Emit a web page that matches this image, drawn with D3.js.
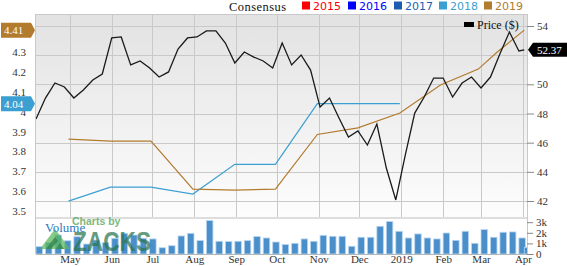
<!DOCTYPE html>
<html><head><meta charset="utf-8">
<script src="https://cdn.jsdelivr.net/npm/d3@7"></script>
<style>body{margin:0;background:#fff}svg{display:block}</style>
</head><body><svg id="c" width="567" height="266"></svg>
<script>
// ---------- data ----------
const priceStartDate = "2018-04-06"; // weekly closes from this Friday
const priceValues = [47.62,49.06,50.09,49.82,49.06,49.61,50.30,50.71,53.18,53.25,
  51.33,51.60,51.12,50.50,50.85,52.42,53.18,53.25,53.66,53.66,
  52.83,51.46,52.22,51.87,51.60,51.12,52.83,51.33,52.01,50.98,
  48.44,49.06,47.69,46.39,46.80,45.84,47.28,44.26,42.07,45.15,
  48.03,49.13,50.43,50.43,49.13,50.09,50.50,49.75,50.50,52.10,
  53.59,52.29];
const lastDate = "2019-04-02";
const lastPrice = 52.37;
const volumeValues = [0.69,1.07,1.79,1.25,1.63,0.94,1.32,1.07,1.48,1.95,
  1.79,1.48,1.42,0.59,0.78,1.70,1.95,1.27,3.15,1.20,
  1.17,1.20,1.26,1.64,1.51,1.13,0.89,1.01,1.42,1.20,
  1.76,1.67,1.67,0.73,1.58,1.58,2.61,3.06,2.14,1.51,
  1.89,1.51,1.42,1.98,1.29,2.14,1.01,2.30,1.58,2.05,
  2.08,1.51,0.63];
const cons2018Dates = ["2018-04-30","2018-05-31","2018-06-30","2018-07-31","2018-08-31","2018-09-30","2018-10-31","2018-12-31"];
const cons2018Values = [3.55,3.62,3.62,3.585,3.735,3.735,4.04,4.04];
const cons2019Dates = ["2018-04-30","2018-05-31","2018-06-30","2018-07-31","2018-08-31","2018-09-30","2018-10-31","2018-11-30","2018-12-31","2019-01-30","2019-02-27","2019-03-13","2019-04-02"];
const cons2019Values = [3.862,3.852,3.852,3.61,3.605,3.61,3.885,3.918,3.993,4.134,4.214,4.30,4.41];
const monthTickDates = ["2018-05-01","2018-06-01","2018-07-01","2018-08-01","2018-09-01","2018-10-01","2018-11-01","2018-12-01","2019-01-01","2019-02-01","2019-03-01","2019-04-01"];
const monthTickLabels = ["May","Jun","Jul","Aug","Sep","Oct","Nov","Dec","2019","Feb","Mar","Apr"];
const epsTicks = [3.5,3.6,3.7,3.8,3.9,4.0,4.1,4.2,4.3];
const epsTickLabels = ["3.5","3.6","3.7","3.8","3.9","4","4.1","4.2","4.3"];
const priceGridTicks = [42,44,46,48,50,52,54];
const priceLabelTicks = [42,44,46,48,50,54];
const volumeTicks = [0,1,2,3];
const volumeTickLabels = ["0","1k","2k","3k"];
const legendYears = ["2015","2016","2017","2018","2019"];
const legendColors = ["#ff0000","#0000ff","#1e5eb0","#3c9fd1","#b27b2e"];
const badgeEps2019 = "4.41", badgeEps2018 = "4.04", badgePrice = "52.37";

// ---------- layout ----------
const L = 36, R = 527, T = 14, PB = 217, VT = 219, VB = 254;
const parse = d3.timeParse("%Y-%m-%d");
const svg = d3.select("#c");
const serif = "'Liberation Serif','Times New Roman',serif";

const x = d3.scaleTime().domain([parse("2018-04-06"), parse("2019-04-04")]).range([L, R]);
const yP = d3.scaleLinear().domain([42, 54]).range([201, 26]);
const yE = d3.scaleLinear().domain([3.5, 4.3]).range([211, 52]);
const yV = d3.scaleLinear().domain([0, 3.3]).range([VB, VB - 35]);

const start = parse(priceStartDate);
const priceData = priceValues.map((v, i) => ({d: d3.timeDay.offset(start, 7 * i), v}));
priceData.push({d: parse(lastDate), v: lastPrice});
const volData = volumeValues.map((v, i) => ({d: i < priceData.length ? priceData[i].d : parse(lastDate), v}));

// background gradient
const defs = svg.append("defs");
const g = defs.append("linearGradient").attr("id", "bg").attr("x1", 0).attr("y1", 0).attr("x2", 0).attr("y2", 1);
g.append("stop").attr("offset", "0%").attr("stop-color", "#e2e2e2");
g.append("stop").attr("offset", "100%").attr("stop-color", "#fdfdfd");
defs.append("clipPath").attr("id", "clipP").append("rect").attr("x", L).attr("y", T).attr("width", R - L).attr("height", PB - T);
defs.append("clipPath").attr("id", "clipV").append("rect").attr("x", L).attr("y", VT).attr("width", R - L).attr("height", VB - VT);

svg.append("rect").attr("x", L).attr("y", T).attr("width", R - L).attr("height", PB - T).attr("fill", "url(#bg)");

// gridlines
svg.append("g").selectAll("line").data(priceGridTicks).join("line")
  .attr("x1", L).attr("x2", R).attr("y1", d => Math.round(yP(d)) + 0.5).attr("y2", d => Math.round(yP(d)) + 0.5)
  .attr("stroke", "#c9c9c9");
svg.append("g").selectAll("line").data(monthTickDates).join("line")
  .attr("x1", d => Math.round(x(parse(d))) + 0.5).attr("x2", d => Math.round(x(parse(d))) + 0.5)
  .attr("y1", T).attr("y2", PB).attr("stroke", "#c9c9c9");

// separator band
svg.append("rect").attr("x", L).attr("y", PB).attr("width", R - L).attr("height", 2).attr("fill", "#dddddd");

// borders
svg.append("line").attr("x1", L).attr("x2", R).attr("y1", T + 0.5).attr("y2", T + 0.5).attr("stroke", "#c9c9c9");
svg.append("line").attr("x1", L - 0.5).attr("x2", L - 0.5).attr("y1", T).attr("y2", VB).attr("stroke", "#c9c9c9");
svg.append("line").attr("x1", R + 0.5).attr("x2", R + 0.5).attr("y1", T).attr("y2", VB).attr("stroke", "#c9c9c9");
svg.append("line").attr("x1", L).attr("x2", R + 7).attr("y1", VB + 0.5).attr("y2", VB + 0.5).attr("stroke", "#b5b5b5");

// volume bars
svg.append("g").attr("clip-path", "url(#clipV)").selectAll("rect").data(volData).join("rect")
  .attr("x", d => x(d.d)).attr("width", 6.5)
  .attr("y", d => yV(d.v)).attr("height", d => VB - yV(d.v))
  .attr("fill", "#4a8fca").attr("stroke", "#b9d6f0").attr("stroke-width", 0.8);

// watermark
const wm = svg.append("g");
wm.append("path").attr("d", "M40,249 L55,229 L70,249 Z").attr("fill", "#5cb85c").attr("opacity", 0.75);
wm.append("path").attr("d", "M46,249 L55,237 L58,241 L51,249 Z M56,249 L60,243 L64,249 Z").attr("fill", "#2e7d4a").attr("opacity", 0.7);
wm.append("text").attr("x", 72).attr("y", 225).attr("font-family", "'Liberation Sans',Arial,sans-serif")
  .attr("font-weight", "bold").attr("font-size", 10.5).attr("fill", "#5aa860").attr("opacity", 0.8).text("Charts by");
wm.append("text").attr("x", 73).attr("y", 251).attr("font-family", "'Liberation Sans',Arial,sans-serif")
  .attr("font-weight", "bold").attr("font-size", 28).attr("textLength", 78).attr("lengthAdjust", "spacingAndGlyphs")
  .attr("fill", "#2c7550").attr("opacity", 0.72).text("ZACKS");
svg.append("text").attr("x", 45).attr("y", 232).attr("font-family", serif).attr("font-size", 13)
  .attr("fill", "#2a7cc0").text("Volume");

// consensus lines
const line = (yy) => d3.line().x(d => x(d.d)).y(d => yy(d.v));
const c18 = cons2018Dates.map((d, i) => ({d: parse(d), v: cons2018Values[i]}));
const c19 = cons2019Dates.map((d, i) => ({d: parse(d), v: cons2019Values[i]}));
const lines = svg.append("g").attr("clip-path", "url(#clipP)");
lines.append("path").datum(c18).attr("d", line(yE)).attr("fill", "none").attr("stroke", legendColors[3]).attr("stroke-width", 1.2);
lines.append("path").datum(c19).attr("d", line(yE)).attr("fill", "none").attr("stroke", legendColors[4]).attr("stroke-width", 1.2);
lines.append("path").datum(priceData).attr("d", line(yP)).attr("fill", "none").attr("stroke", "#1a1a1a").attr("stroke-width", 1.3);

// axes
const styleAxis = (sel) => {
  sel.select(".domain").remove();
  sel.selectAll("text").attr("font-family", serif).attr("font-size", 11).attr("fill", "#333");
  sel.selectAll("line").attr("stroke", "#888");
};
svg.append("g").attr("transform", `translate(${R},0)`)
  .call(d3.axisRight(yP).tickValues(priceLabelTicks).tickSize(7).tickPadding(3).tickFormat(d3.format("d")))
  .call(styleAxis);
svg.append("g").attr("transform", `translate(${R},0)`)
  .call(d3.axisRight(yV).tickValues(volumeTicks).tickSize(6).tickPadding(3).tickFormat((d, i) => volumeTickLabels[i]))
  .call(styleAxis);
svg.append("g").attr("transform", `translate(${L},0)`)
  .call(d3.axisLeft(yE).tickValues(epsTicks).tickSize(0).tickPadding(10).tickFormat((d, i) => epsTickLabels[i]))
  .call(styleAxis);
svg.append("g").attr("transform", `translate(0,${VB})`)
  .call(d3.axisBottom(x).tickValues(monthTickDates.map(parse)).tickSize(0).tickPadding(1.5).tickFormat((d, i) => monthTickLabels[i]))
  .call(styleAxis);

// badges
function leftBadge(yc, color, label) {
  svg.append("path").attr("d", `M1,${yc - 7.5} L31,${yc - 7.5} L35,${yc} L31,${yc + 7.5} L1,${yc + 7.5} Z`).attr("fill", color);
  svg.append("text").attr("x", 4).attr("y", yc + 4).attr("font-family", serif).attr("font-size", 11).attr("fill", "#fff").text(label);
}
leftBadge(yE(+badgeEps2019), legendColors[4], badgeEps2019);
leftBadge(yE(+badgeEps2018), legendColors[3], badgeEps2018);
const yb = yP(lastPrice);
svg.append("path").attr("d", `M528,${yb} L533,${yb - 7} L567,${yb - 7} L567,${yb + 7} L533,${yb + 7} Z`).attr("fill", "#000");
svg.append("text").attr("x", 537).attr("y", yb + 4).attr("font-family", serif).attr("font-size", 11).attr("fill", "#fff").text(badgePrice);

// price legend
svg.append("rect").attr("x", 464).attr("y", 22).attr("width", 10).attr("height", 5).attr("fill", "#000");
svg.append("text").attr("x", 477).attr("y", 29).attr("font-family", serif).attr("font-size", 12).attr("fill", "#111").text("Price ($)");

// top legend
svg.append("text").attr("x", 229).attr("y", 11).attr("font-family", serif).attr("font-size", 12.5)
  .attr("textLength", 57).attr("fill", "#111").text("Consensus");
const legX = [302, 348, 394, 439, 484];
const lg = svg.append("g").selectAll("g").data(legendYears).join("g");
lg.append("rect").attr("x", (d, i) => legX[i]).attr("y", 1.5).attr("width", 8).attr("height", 8).attr("fill", (d, i) => legendColors[i]);
lg.append("text").attr("x", (d, i) => legX[i] + 11).attr("y", 10).attr("font-family", "'DejaVu Sans',sans-serif")
  .attr("font-size", 11).attr("fill", (d, i) => legendColors[i]).text(d => d);
</script></body></html>
